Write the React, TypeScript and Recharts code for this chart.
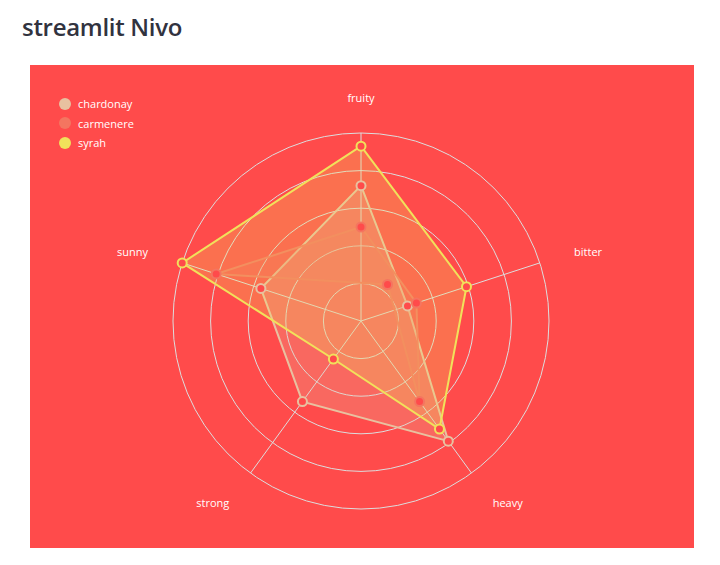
import React from 'react'
import { RadarChart, Radar, PolarGrid, PolarAngleAxis, PolarRadiusAxis, Legend } from 'recharts'

const tastes = ['fruity', 'bitter', 'heavy', 'strong', 'sunny']
const chardonay = [72, 26, 79, 53, 56]
const carmenere = [50, 31, 53, -24, 81]
const syrah = [93, 59, 71, 25, 100]

const series = [
  { key: 'chardonay', color: '#e8c1a0' },
  { key: 'carmenere', color: '#f47560' },
  { key: 'syrah', color: '#f1e15b' },
]

const data = tastes.map((t, i) => ({
  taste: t,
  chardonay: chardonay[i],
  carmenere: carmenere[i],
  syrah: syrah[i],
}))

const maxValue = Math.max(...chardonay, ...carmenere, ...syrah)
const OUTER = 188
const levels = [1, 2, 3, 4, 5].map((l) => (OUTER * l) / 5)
const BG = '#ff4b4b'
const FONT = '"Open Sans", "Noto Sans", sans-serif'

function AngleTick(props: any) {
  const { x, y, cx, cy, payload, textAnchor } = props
  const dx = x - cx
  const dy = y - cy
  const d = Math.sqrt(dx * dx + dy * dy) || 1
  const r = OUTER + 36
  return (
    <text
      x={cx + (dx / d) * r}
      y={cy + (dy / d) * r}
      textAnchor={textAnchor}
      dominantBaseline="central"
      fill="#ffffff"
      fontSize={11}
      fontFamily={FONT}
    >
      {payload.value}
    </text>
  )
}

function LegendBox() {
  return (
    <div style={{ fontFamily: FONT, fontSize: 11, color: '#ffffff' }}>
      {series.map((s) => (
        <div key={s.key} style={{ display: 'flex', alignItems: 'center', height: 19.5 }}>
          <span
            style={{
              width: 12,
              height: 12,
              borderRadius: 6,
              background: s.color,
              display: 'inline-block',
              marginRight: 7,
            }}
          />
          <span>{s.key}</span>
        </div>
      ))}
    </div>
  )
}

export default function App() {
  return (
    <div style={{ position: 'relative', width: 704, height: 549 }}>
      <div
        style={{
          position: 'absolute',
          left: 14,
          top: 2,
          fontFamily: FONT,
          fontWeight: 600,
          fontSize: 24,
          color: '#31333f',
          letterSpacing: -0.3,
        }}
      >
        streamlit Nivo
      </div>
      <div style={{ position: 'absolute', left: 22, top: 57, width: 664, height: 483, background: BG }}>
        <RadarChart
          width={664}
          height={483}
          data={data}
          cx={331}
          cy={256}
          outerRadius={OUTER}
          startAngle={90}
          endAngle={-270}
        >
          <PolarGrid gridType="circle" polarRadius={levels} stroke="#dddddd" strokeWidth={1} />
          <PolarAngleAxis dataKey="taste" tick={<AngleTick />} tickLine={false} axisLine={false} />
          <PolarRadiusAxis domain={[0, maxValue]} allowDataOverflow tick={false} axisLine={false} />
          {series.map((s) => (
            <Radar
              key={s.key}
              dataKey={s.key}
              stroke={s.color}
              strokeWidth={2}
              fill={s.color}
              fillOpacity={0.25}
              dot={{ r: 4.5, fill: BG, stroke: s.color, strokeWidth: 2, fillOpacity: 1 }}
              isAnimationActive={false}
            />
          ))}
          <Legend
            layout="vertical"
            align="left"
            verticalAlign="top"
            content={<LegendBox />}
            wrapperStyle={{ left: 29, top: 29, width: 120 }}
          />
        </RadarChart>
      </div>
    </div>
  )
}
